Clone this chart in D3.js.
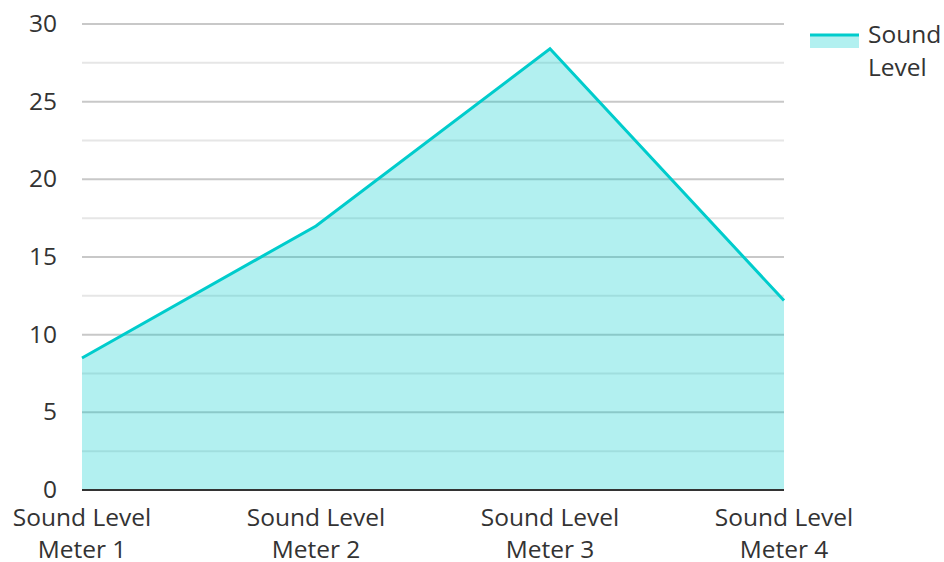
<!DOCTYPE html>
<html>
<head>
<meta charset="utf-8">
<script src="https://cdn.jsdelivr.net/npm/d3@7"></script>
<style>
  body { margin: 0; background: #fff; }
  text { font-family: "Open Sans", "Noto Sans", sans-serif; fill: #333; }
</style>
</head>
<body>
<div id="chart"></div>
<script>
var categories = ["Sound Level Meter 1", "Sound Level Meter 2", "Sound Level Meter 3", "Sound Level Meter 4"];
var soundLevel = [8.5, 17, 28.4, 12.2];
var yTicks = [0, 5, 10, 15, 20, 25, 30];
var seriesName = "Sound Level";

var width = 944, height = 562;
var margin = {top: 24, right: 160, bottom: 72, left: 82};
var lineColor = "#00cccc";
var fillColor = "rgba(0,204,204,0.3)";
var fontSize = "24.5px";

var svg = d3.select("#chart").append("svg")
    .attr("width", width)
    .attr("height", height);

var x = d3.scalePoint()
    .domain(categories)
    .range([margin.left, width - margin.right]);

var y = d3.scaleLinear()
    .domain([0, 30])
    .range([height - margin.bottom, margin.top]);

// minor grid lines (every 2.5)
var minor = d3.range(2.5, 30, 5);
svg.append("g").selectAll("line.minor")
    .data(minor)
    .enter()
    .append("line")
    .attr("class", "minor")
    .attr("x1", margin.left)
    .attr("x2", width - margin.right)
    .attr("y1", function(d){ return y(d); })
    .attr("y2", function(d){ return y(d); })
    .attr("stroke", "#e6e6e6")
    .attr("stroke-width", 2);

// major grid lines
svg.append("g").selectAll("line.major")
    .data(yTicks.filter(function(d){ return d > 0; }))
    .enter()
    .append("line")
    .attr("class", "major")
    .attr("x1", margin.left)
    .attr("x2", width - margin.right)
    .attr("y1", function(d){ return y(d); })
    .attr("y2", function(d){ return y(d); })
    .attr("stroke", "#c8c8c8")
    .attr("stroke-width", 2);

// area
var area = d3.area()
    .x(function(d, i){ return x(categories[i]); })
    .y0(y(0))
    .y1(function(d){ return y(d); });

svg.append("path")
    .datum(soundLevel)
    .attr("d", area)
    .attr("fill", fillColor);

var line = d3.line()
    .x(function(d, i){ return x(categories[i]); })
    .y(function(d){ return y(d); });

svg.append("path")
    .datum(soundLevel)
    .attr("d", line)
    .attr("fill", "none")
    .attr("stroke", lineColor)
    .attr("stroke-width", 3)
    .attr("stroke-linejoin", "miter");

// baseline
svg.append("line")
    .attr("x1", margin.left)
    .attr("x2", width - margin.right)
    .attr("y1", y(0))
    .attr("y2", y(0))
    .attr("stroke", "#333")
    .attr("stroke-width", 2);

// y labels
svg.append("g").selectAll("text")
    .data(yTicks)
    .enter()
    .append("text")
    .attr("x", 57)
    .attr("y", function(d){ return y(d) + 8; })
    .attr("text-anchor", "end")
    .style("font-size", fontSize)
    .text(function(d){ return d; });

// x labels (two lines)
var xl = svg.append("g").selectAll("text")
    .data(categories)
    .enter()
    .append("text")
    .attr("text-anchor", "middle")
    .style("font-size", fontSize);
xl.append("tspan")
    .attr("x", function(d){ return x(d); })
    .attr("y", 526)
    .text(function(d){ return d.split(" ").slice(0, 2).join(" "); });
xl.append("tspan")
    .attr("x", function(d){ return x(d); })
    .attr("y", 558)
    .text(function(d){ return d.split(" ").slice(2).join(" "); });

// legend
var lg = svg.append("g");
lg.append("rect")
    .attr("x", 810).attr("y", 35)
    .attr("width", 49).attr("height", 13)
    .attr("fill", fillColor);
lg.append("line")
    .attr("x1", 810).attr("x2", 859)
    .attr("y1", 35).attr("y2", 35)
    .attr("stroke", lineColor)
    .attr("stroke-width", 3);
var lt = lg.append("text")
    .style("font-size", fontSize);
lt.append("tspan").attr("x", 868).attr("y", 43).text(seriesName.split(" ")[0]);
lt.append("tspan").attr("x", 868).attr("y", 76).text(seriesName.split(" ")[1]);
</script>
</body>
</html>
